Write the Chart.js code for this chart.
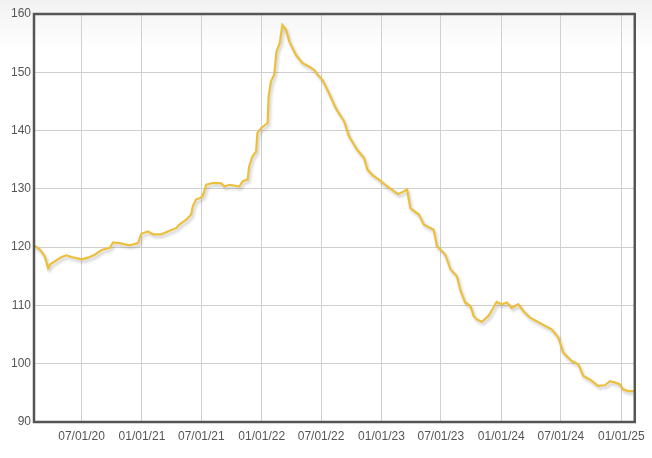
<!DOCTYPE html>
<html lang="en">
<head>
  <meta charset="UTF-8" />
  <title>Index chart</title>
  <script src="https://cdn.jsdelivr.net/npm/chart.js"></script>
  <style>
    html, body { margin: 0; padding: 0; }
    body { background: linear-gradient(#f2f2f2, #ffffff 50px); width: 652px; height: 458px; overflow: hidden; }
    #wrap { position: relative; width: 652px; height: 458px; }
  </style>
</head>
<body>
  <div id="wrap"><canvas id="chart"></canvas></div>

  <script>
    // series
    const dates = [
      "2020-02-07","2020-02-25","2020-03-11","2020-03-21","2020-03-27","2020-04-11","2020-05-01","2020-05-16",
      "2020-06-01","2020-07-01","2020-07-21","2020-08-10","2020-08-31","2020-09-25","2020-10-05","2020-10-25",
      "2020-11-25","2020-12-20","2020-12-30","2021-01-19","2021-02-04","2021-03-01","2021-03-21","2021-04-16",
      "2021-04-26","2021-05-16","2021-05-31","2021-06-05","2021-06-15","2021-06-25","2021-07-05","2021-07-16",
      "2021-08-05","2021-08-30","2021-09-09","2021-09-25","2021-10-25","2021-11-04","2021-11-19","2021-11-24",
      "2021-12-04","2021-12-15","2021-12-19","2021-12-30","2022-01-19","2022-01-22","2022-01-29","2022-02-08",
      "2022-02-15","2022-02-25","2022-03-05","2022-03-16","2022-03-26","2022-04-15","2022-05-05","2022-05-25",
      "2022-06-10","2022-06-20","2022-07-05","2022-07-25","2022-08-15","2022-09-09","2022-09-24","2022-10-19",
      "2022-11-09","2022-11-19","2022-12-04","2022-12-24","2023-01-13","2023-02-08","2023-02-20","2023-03-05",
      "2023-03-20","2023-03-30","2023-04-25","2023-05-10","2023-06-09","2023-06-19","2023-07-15","2023-07-30",
      "2023-08-19","2023-08-29","2023-09-13","2023-09-29","2023-10-09","2023-10-19","2023-11-03","2023-11-23",
      "2023-12-08","2023-12-18","2024-01-03","2024-01-18","2024-02-02","2024-02-22","2024-03-09","2024-03-29",
      "2024-04-18","2024-05-13","2024-06-03","2024-06-23","2024-07-08","2024-08-02","2024-08-23","2024-09-07",
      "2024-09-27","2024-10-22","2024-11-12","2024-11-27","2024-12-12","2024-12-27","2025-01-06","2025-01-22",
      "2025-02-11"
    ];
    const values = [
      120.3,119.6,118.4,116.4,117.0,117.6,118.3,118.6,
      118.3,117.9,118.2,118.7,119.5,119.9,120.8,120.7,
      120.3,120.7,122.3,122.7,122.2,122.2,122.7,123.3,
      123.9,124.7,125.6,127.0,128.2,128.4,128.7,130.7,
      131.0,131.0,130.4,130.7,130.4,131.3,131.6,133.9,
      135.6,136.4,139.6,140.4,141.3,145.8,148.4,149.6,
      153.5,155.0,158.1,157.3,155.3,153.0,151.6,151.0,
      150.4,149.6,148.7,146.4,143.8,141.6,139.0,136.7,
      135.3,133.3,132.4,131.6,130.7,129.6,129.1,129.4,
      129.9,126.7,125.6,123.9,123.0,120.2,118.7,116.2,
      115.0,112.7,110.5,109.9,108.2,107.6,107.2,108.2,
      109.6,110.6,110.2,110.5,109.6,110.2,109.0,107.9,
      107.3,106.5,105.9,104.5,101.9,100.5,99.9,97.9,
      97.3,96.2,96.3,97.0,96.8,96.5,95.6,95.3,
      95.3
    ];
    const tickDates = ["2020-07-01","2021-01-01","2021-07-01","2022-01-01","2022-07-01",
                       "2023-01-01","2023-07-01","2024-01-01","2024-07-01","2025-01-01"];
    const tickLabels = ["07/01/20","01/01/21","07/01/21","01/01/22","07/01/22",
                        "01/01/23","07/01/23","01/01/24","07/01/24","01/01/25"];
    const yTicks = [90, 100, 110, 120, 130, 140, 150, 160];

    const toDay = s => Date.parse(s) / 86400000;
    const points = dates.map((d, i) => ({ x: toDay(d), y: values[i] }));
    const tickDays = tickDates.map(toDay);

    // soft grey shadow under the line
    const lineShadow = {
      id: "lineShadow",
      beforeDatasetDraw(chart) {
        const ctx = chart.ctx;
        ctx.save();
        ctx.shadowColor = "rgba(0,0,0,0.22)";
        ctx.shadowBlur = 3;
        ctx.shadowOffsetX = 1.5;
        ctx.shadowOffsetY = 2.5;
      },
      afterDatasetDraw(chart) {
        chart.ctx.restore();
      }
    };

    // dark frame round the plot area
    const frame = {
      id: "frame",
      afterDraw(chart) {
        const { ctx, chartArea: a } = chart;
        ctx.save();
        ctx.strokeStyle = "#555";
        ctx.lineWidth = 2.5;
        ctx.strokeRect(a.left, a.top, a.right - a.left, a.bottom - a.top);
        ctx.restore();
      }
    };

    Chart.defaults.font.family = "'Liberation Sans', Arial, sans-serif";
    Chart.defaults.font.size = 12;
    Chart.defaults.color = "#555";

    new Chart(document.getElementById("chart"), {
      type: "line",
      data: {
        datasets: [{
          data: points,
          borderColor: "#ecbf3c",
          borderWidth: 2.2,
          pointRadius: 0,
          tension: 0,
          fill: false
        }]
      },
      options: {
        responsive: true,
        maintainAspectRatio: false,
        animation: false,
        layout: { padding: { top: 14, right: 15, left: 0, bottom: 0 } },
        plugins: { legend: { display: false }, tooltip: { enabled: false } },
        scales: {
          x: {
            type: "linear",
            min: toDay(dates[0]),
            max: toDay(dates[dates.length - 1]),
            afterBuildTicks: s => { s.ticks = tickDays.map(v => ({ value: v })); },
            afterFit: s => { s.height = 36; },
            grid: { color: "#d0d0d0", drawTicks: false },
            border: { display: false },
            ticks: {
              padding: 7,
              maxRotation: 0,
              autoSkip: false,
              callback: v => tickLabels[tickDays.indexOf(v)]
            }
          },
          y: {
            min: 90,
            max: 160,
            afterBuildTicks: s => { s.ticks = yTicks.map(v => ({ value: v })); },
            afterFit: s => { s.width = 34; },
            grid: { color: "#d0d0d0", drawTicks: false },
            border: { display: false },
            ticks: { padding: 3 }
          }
        }
      },
      plugins: [lineShadow, frame]
    });
  </script>
</body>
</html>
